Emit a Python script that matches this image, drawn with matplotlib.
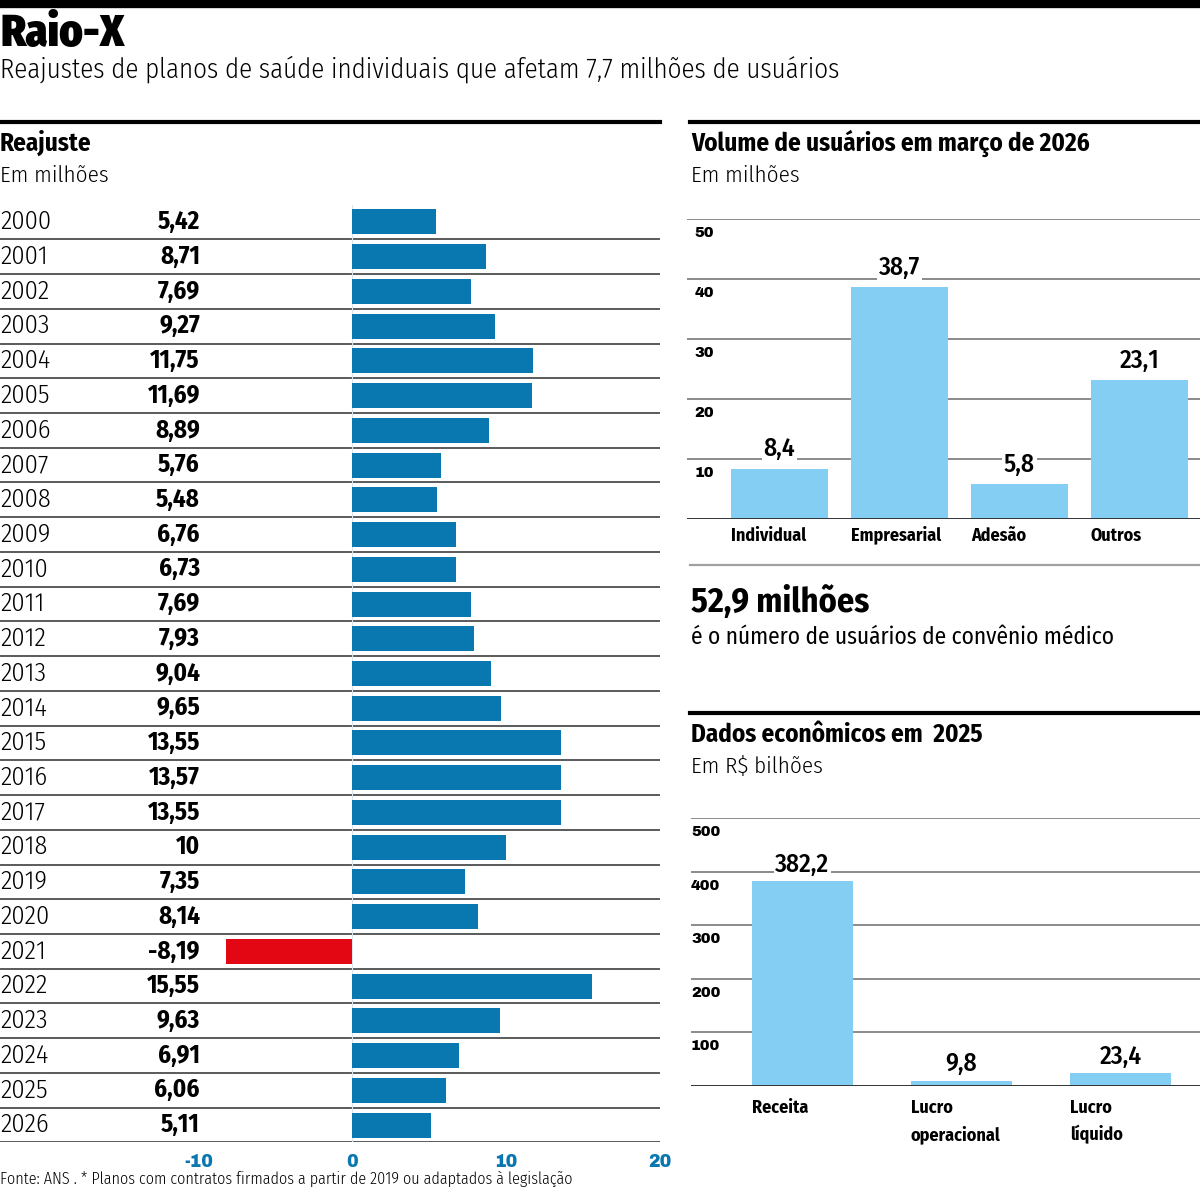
import numpy as np
import matplotlib
matplotlib.use("Agg")
import matplotlib.pyplot as plt

# Dados
anos = [str(a) for a in range(2000, 2027)]
reajuste = [5.42, 8.71, 7.69, 9.27, 11.75, 11.69, 8.89, 5.76, 5.48, 6.76, 6.73,
            7.69, 7.93, 9.04, 9.65, 13.55, 13.57, 13.55, 10, 7.35, 8.14, -8.19,
            15.55, 9.63, 6.91, 6.06, 5.11]
reajuste_txt = ["5,42", "8,71", "7,69", "9,27", "11,75", "11,69", "8,89", "5,76",
                "5,48", "6,76", "6,73", "7,69", "7,93", "9,04", "9,65", "13,55",
                "13,57", "13,55", "10", "7,35", "8,14", "-8,19", "15,55", "9,63",
                "6,91", "6,06", "5,11"]
ticks_reajuste = [-10, 0, 10, 20]

tipos = ["Individual", "Empresarial", "Adesão", "Outros"]
usuarios = [8.4, 38.7, 5.8, 23.1]
usuarios_txt = ["8,4", "38,7", "5,8", "23,1"]
ticks_usuarios = [10, 20, 30, 40, 50]

itens = [["Receita"], ["Lucro", "operacional"], ["Lucro", "líquido"]]
valores = [382.2, 9.8, 23.4]
valores_txt = ["382,2", "9,8", "23,4"]
ticks_valores = [100, 200, 300, 400, 500]

W, H = 1200, 1187
COND = ["Fira Sans Condensed", "DejaVu Sans"]
LARGA = ["Archivo Black", "DejaVu Sans"]
plt.rcParams["font.family"] = COND

AZUL = "#0a78b0"
VERMELHO = "#e30613"
AZUL_CLARO = "#84cef3"
GRADE = "#8a8a8a"

fig = plt.figure(figsize=(W / 100, H / 100), dpi=100)


def add_ax(x0, y0, x1, y1):
    return fig.add_axes([x0 / W, 1 - y1 / H, (x1 - x0) / W, (y1 - y0) / H])


def ftext(x, y, s, **kw):
    fig.text(x / W, 1 - y / H, s, **kw)


def hline(x0, x1, y, lw, color="black"):
    fig.add_artist(plt.Line2D([x0 / W, x1 / W], [1 - y / H, 1 - y / H],
                              color=color, lw=lw, transform=fig.transFigure))


# cabecalho
hline(0, W, 4, 6)
ftext(0, 34, "Raio-X", fontsize=32, fontweight=900, va="center")
ftext(0, 69, "Reajustes de planos de saúde individuais que afetam 7,7 milhões de usuários",
      fontsize=19.4, fontweight=300, va="center")

hline(0, 660, 122, 3)
ftext(0, 143, "Reajuste", fontsize=18, fontweight="bold", va="center")
ftext(0, 176, "Em milhões", fontsize=16.6, fontweight=300, va="center")

hline(690, W, 122, 3)
ftext(691, 143, "Volume de usuários em março de 2026", fontsize=18, fontweight="bold", va="center")
ftext(691, 176, "Em milhões", fontsize=16.6, fontweight=300, va="center")

hline(690, W, 565, 1.6, color="#a0a0a0")
ftext(691, 603, "52,9 milhões", fontsize=24.7, fontweight="bold", va="center")
ftext(691, 637, "é o número de usuários de convênio médico", fontsize=16.8, va="center")

hline(690, W, 713, 3)
ftext(691, 735, "Dados econômicos em  2025", fontsize=18, fontweight="bold", va="center")
ftext(691, 767, "Em R$ bilhões", fontsize=16.6, fontweight=300, va="center")

ftext(0, 1179, "Fonte: ANS . * Planos com contratos firmados a partir de 2019 ou adaptados à legislação",
      fontsize=11.6, fontweight=300, va="center")

# grafico de reajustes
ax = add_ax(0, 204.6, 660, 1142.4)
y = np.arange(len(anos))
cores = [VERMELHO if v < 0 else AZUL for v in reajuste]
ax.barh(y, reajuste, height=0.72, color=cores, zorder=3)
ax.set_xlim(-22.9, 19.6)
ax.set_ylim(len(anos) - 0.5, -0.5)
for i in range(len(anos)):
    ax.axhline(i + 0.5, color="#5a5a5a", lw=1.4, zorder=1)
ax.axvline(0, color="#d8e6ee", lw=0.8, zorder=2)
tr = ax.get_yaxis_transform()
for i, (a, t) in enumerate(zip(anos, reajuste_txt)):
    ax.text(0.0, i, a, transform=tr, ha="left", va="center", fontsize=19, fontweight=300)
    ax.text(0.303, i, t, transform=tr, ha="right", va="center", fontsize=18, fontweight="bold")
ax.set_xticks(ticks_reajuste)
ax.set_xticklabels([str(t) for t in ticks_reajuste], color=AZUL, fontsize=12.5, family=LARGA)
ax.tick_params(axis="x", length=0, pad=8)
ax.set_yticks([])
for s in ax.spines.values():
    s.set_visible(False)

# volume de usuarios
ax2 = add_ax(687, 219, 1200, 519)
x2 = np.arange(len(tipos))
ax2.bar(x2, usuarios, width=0.81, color=AZUL_CLARO, zorder=3)
ax2.set_xlim(-0.771, 3.504)
ax2.set_ylim(0, 50)
for v in ticks_usuarios:
    ax2.axhline(v, color=GRADE, lw=1.4, zorder=1)
    ax2.annotate(str(v), (0.015, v), xycoords=ax2.get_yaxis_transform(),
                 xytext=(0, -5), textcoords="offset points", ha="left", va="top",
                 fontsize=10.5, family=LARGA)
ax2.axhline(0, color="#333333", lw=1.4, zorder=4)
for xi, v, t, nome in zip(x2, usuarios, usuarios_txt, tipos):
    ax2.annotate(t, (xi, v), xytext=(0, 5), textcoords="offset points", ha="center",
                 va="bottom", fontsize=18.5, fontweight=500, zorder=5,
                 bbox=dict(facecolor="white", edgecolor="none", pad=1.5))
    ax2.annotate(nome, (xi - 0.405, 0), xytext=(0, -15.5), textcoords="offset points",
                 ha="left", va="baseline", fontsize=13, fontweight="bold")
ax2.axis("off")

# dados economicos
ax3 = add_ax(691, 818, 1200, 1086)
x3 = np.arange(len(itens))
ax3.bar(x3, valores, width=0.635, color=AZUL_CLARO, zorder=3)
ax3.set_xlim(-0.701, 2.5)
ax3.set_ylim(0, 500)
for v in ticks_valores:
    ax3.axhline(v, color=GRADE, lw=1.4, zorder=1)
    ax3.annotate(str(v), (0.0, v), xycoords=ax3.get_yaxis_transform(),
                 xytext=(0, -5), textcoords="offset points", ha="left", va="top",
                 fontsize=10.5, family=LARGA)
ax3.axhline(0, color="#333333", lw=1.4, zorder=4)
for xi, v, t, linhas in zip(x3, valores, valores_txt, itens):
    ax3.annotate(t, (xi, v), xytext=(0, 3), textcoords="offset points", ha="center",
                 va="bottom", fontsize=18.5, fontweight=500, zorder=5,
                 bbox=dict(facecolor="white", edgecolor="none", pad=1))
    for k, linha in enumerate(linhas):
        ax3.annotate(linha, (xi - 0.3175, 0), xytext=(0, -19.5 - 19.5 * k),
                     textcoords="offset points", ha="left", va="baseline",
                     fontsize=13, fontweight="bold")
ax3.axis("off")

fig.savefig("out.png", dpi=100)
